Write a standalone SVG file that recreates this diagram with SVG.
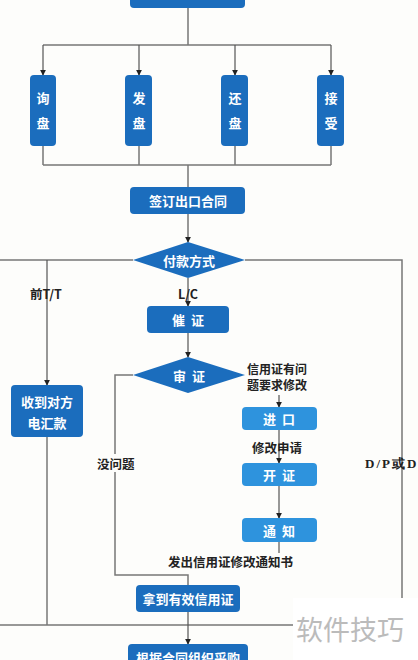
<svg xmlns="http://www.w3.org/2000/svg" width="418" height="660" viewBox="0 0 418 660">
<style>
.bg{fill:#fdfdfb}
.dk{fill:#1b6dbd}
.lt{fill:#2e93dd}
.bt{fill:#fff;font-family:"Noto Sans CJK SC","Noto Sans",sans-serif;font-weight:bold;font-size:13px;text-anchor:middle;dominant-baseline:central}
.lb{fill:#222;font-family:"Noto Sans CJK SC","Liberation Sans",sans-serif;font-weight:bold;font-size:12.5px;dominant-baseline:central}
.ln{stroke:#777;stroke-width:1.5;fill:none}
.ar{stroke:#555;stroke-width:1.2;fill:none;marker-end:url(#a)}
</style>
<defs>
<marker id="a" viewBox="0 0 8 8" refX="7" refY="4" markerWidth="6" markerHeight="6" orient="auto" markerUnits="userSpaceOnUse">
<path d="M0,0 L8,4 L0,8 z" fill="#222"/>
</marker>
</defs>
<rect class="bg" x="0" y="0" width="418" height="660"/>
<g id="connectors">
<path class="ln" d="M188,8 V45 M43,45 H331"/>
<path class="ar" d="M43,45 V75"/>
<path class="ar" d="M139,45 V75"/>
<path class="ar" d="M235,45 V75"/>
<path class="ar" d="M331,45 V75"/>
<path class="ln" d="M43,146 V165 M139,146 V165 M235,146 V165 M331,146 V165 M43,165 H331 M188,165 V187"/>
<path class="ar" d="M188,214 V242"/>
<path class="ln" d="M0,260 H133 M245,260 H402 V625 M0,625 H402"/>
<path class="ar" d="M47,260 V385"/>
<path class="ln" d="M47,437 V625"/>
<path class="ar" d="M188,278 V306"/>
<path class="ar" d="M188,333 V357"/>
<path class="ln" d="M133,375 H115 V575 H188 V585"/>
<path class="ar" d="M279,395 V407"/>
<path class="ar" d="M279,430 V463"/>
<path class="ar" d="M279,486 V518"/>
<path class="ln" d="M279,542 V553"/>
<path class="ar" d="M188,612 V644"/>
</g>
<g id="top"><rect class="dk" x="130" y="-20" width="115" height="28" rx="4"/></g>
<g id="xunpan"><rect class="dk" x="30" y="75" width="26" height="71" rx="4"/><text class="bt" x="43" y="97">询</text><text class="bt" x="43" y="122">盘</text></g>
<g id="fapan"><rect class="dk" x="125" y="75" width="27" height="71" rx="4"/><text class="bt" x="139" y="97">发</text><text class="bt" x="139" y="122">盘</text></g>
<g id="huanpan"><rect class="dk" x="221" y="75" width="27" height="71" rx="4"/><text class="bt" x="235" y="97">还</text><text class="bt" x="235" y="122">盘</text></g>
<g id="jieshou"><rect class="dk" x="317" y="75" width="27" height="71" rx="4"/><text class="bt" x="331" y="97">接</text><text class="bt" x="331" y="122">受</text></g>
<g id="qianding"><rect class="dk" x="130" y="187" width="115" height="27" rx="4"/><text class="bt" x="188" y="200.5">签订出口合同</text></g>
<g id="fukuan"><polygon class="dk" points="188,242 245,260 188,278 133,260"/><text class="bt" x="189" y="260">付款方式</text></g>
<g id="cuizheng"><rect class="dk" x="147" y="306" width="82" height="27" rx="4"/><text class="bt" x="188" y="319.5" xml:space="preserve">催  证</text></g>
<g id="shenzheng"><polygon class="dk" points="188,357 245,375 188,393 133,375"/><text class="bt" x="189" y="375" xml:space="preserve">审  证</text></g>
<g id="shoudao"><rect class="dk" x="11" y="385" width="72" height="52" rx="4"/><text class="bt" x="47" y="401">收到对方</text><text class="bt" x="47" y="422">电汇款</text></g>
<g id="jinkou"><rect class="lt" x="242" y="407" width="75" height="23" rx="4"/><text class="bt" x="279" y="418.5" xml:space="preserve">进  口</text></g>
<g id="kaizheng"><rect class="lt" x="242" y="463" width="75" height="23" rx="4"/><text class="bt" x="279" y="474.5" xml:space="preserve">开  证</text></g>
<g id="tongzhi"><rect class="lt" x="242" y="518" width="75" height="24" rx="4"/><text class="bt" x="279" y="530" xml:space="preserve">通  知</text></g>
<g id="nadao"><rect class="dk" x="136" y="585" width="104" height="27" rx="4"/><text class="bt" x="188" y="598.5">拿到有效信用证</text></g>
<g id="genju"><rect class="dk" x="128" y="644" width="120" height="28" rx="4"/><text class="bt" x="188" y="657">根据合同组织采购</text></g>
<g id="labels">
<text class="lb" y="368" style="font-size:12px"><tspan x="247">信用证有问</tspan><tspan x="247" dy="16">题要求修改</tspan></text>
<text class="lb" x="30" y="293">前T/T</text>
<text class="lb" x="188" y="293" text-anchor="middle">L/C</text>
<text class="lb" x="252" y="447">修改申请</text>
<rect x="96" y="454" width="40" height="18" fill="#fdfdfb"/>
<text class="lb" x="97" y="463">没问题</text>
<text class="lb" x="168" y="561">发出信用证修改通知书</text>
<text class="lb" x="365" y="463" style="font-family:'Liberation Serif',serif;font-size:13px;letter-spacing:2px">D/P或D</text>
</g>
<g id="watermark">
<rect x="293" y="598" width="125" height="62" fill="#fff"/>
<text x="296" y="640" style="font-family:'Noto Sans CJK SC',sans-serif;font-size:27px;fill:#bbb">软件技巧</text>
</g>
</svg>
